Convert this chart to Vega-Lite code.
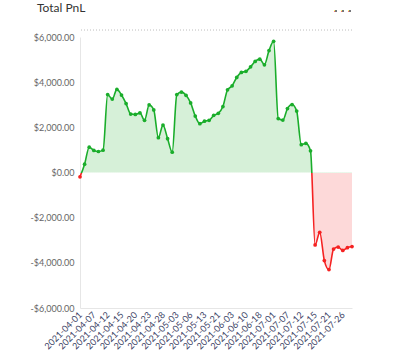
{
  "$schema": "https://vega.github.io/schema/vega-lite/v6.json",
  "autosize": "none",
  "width": 272,
  "height": 271,
  "padding": {"left": 80, "top": 37, "right": 48, "bottom": 55},
  "background": "white",
  "title": {"text": "Total PnL", "anchor": "start", "frame": "group", "dx": -43, "dy": 16, "fontSize": 12, "font": "Lato", "fontWeight": "normal", "color": "#333333"},
  "config": {"view": {"stroke": null}},
  "data": {"values": [
    {"date": "2021-04-01", "pnl": -190},
    {"date": "2021-04-05", "pnl": 370},
    {"date": "2021-04-06", "pnl": 1120},
    {"date": "2021-04-07", "pnl": 975},
    {"date": "2021-04-08", "pnl": 930},
    {"date": "2021-04-09", "pnl": 990},
    {"date": "2021-04-12", "pnl": 3450},
    {"date": "2021-04-13", "pnl": 3250},
    {"date": "2021-04-14", "pnl": 3680},
    {"date": "2021-04-15", "pnl": 3430},
    {"date": "2021-04-16", "pnl": 3050},
    {"date": "2021-04-19", "pnl": 2590},
    {"date": "2021-04-20", "pnl": 2570},
    {"date": "2021-04-21", "pnl": 2640},
    {"date": "2021-04-22", "pnl": 2310},
    {"date": "2021-04-23", "pnl": 2990},
    {"date": "2021-04-26", "pnl": 2770},
    {"date": "2021-04-27", "pnl": 1540},
    {"date": "2021-04-28", "pnl": 2100},
    {"date": "2021-04-29", "pnl": 1500},
    {"date": "2021-04-30", "pnl": 900},
    {"date": "2021-05-03", "pnl": 3450},
    {"date": "2021-05-04", "pnl": 3560},
    {"date": "2021-05-05", "pnl": 3420},
    {"date": "2021-05-06", "pnl": 3080},
    {"date": "2021-05-07", "pnl": 2500},
    {"date": "2021-05-10", "pnl": 2160},
    {"date": "2021-05-13", "pnl": 2270},
    {"date": "2021-05-17", "pnl": 2310},
    {"date": "2021-05-19", "pnl": 2530},
    {"date": "2021-05-21", "pnl": 2620},
    {"date": "2021-05-27", "pnl": 2920},
    {"date": "2021-06-01", "pnl": 3660},
    {"date": "2021-06-03", "pnl": 3840},
    {"date": "2021-06-07", "pnl": 4210},
    {"date": "2021-06-08", "pnl": 4430},
    {"date": "2021-06-10", "pnl": 4480},
    {"date": "2021-06-14", "pnl": 4680},
    {"date": "2021-06-16", "pnl": 4920},
    {"date": "2021-06-18", "pnl": 5020},
    {"date": "2021-06-23", "pnl": 4770},
    {"date": "2021-06-28", "pnl": 5400},
    {"date": "2021-07-01", "pnl": 5810},
    {"date": "2021-07-02", "pnl": 2390},
    {"date": "2021-07-06", "pnl": 2320},
    {"date": "2021-07-07", "pnl": 2830},
    {"date": "2021-07-08", "pnl": 3010},
    {"date": "2021-07-09", "pnl": 2720},
    {"date": "2021-07-12", "pnl": 1230},
    {"date": "2021-07-13", "pnl": 1290},
    {"date": "2021-07-14", "pnl": 960},
    {"date": "2021-07-15", "pnl": -3210},
    {"date": "2021-07-16", "pnl": -2650},
    {"date": "2021-07-19", "pnl": -3900},
    {"date": "2021-07-21", "pnl": -4300},
    {"date": "2021-07-22", "pnl": -3390},
    {"date": "2021-07-23", "pnl": -3300},
    {"date": "2021-07-26", "pnl": -3450},
    {"date": "2021-07-27", "pnl": -3330},
    {"date": "2021-07-28", "pnl": -3280}
  ]},
  "encoding": {
    "x": {
      "field": "date", "type": "ordinal", "sort": null,
      "scale": {"type": "point", "padding": 0},
      "axis": {
        "title": null, "ticks": false, "grid": false,
        "domainColor": "#e6e6e6",
        "values": ["2021-04-01","2021-04-07","2021-04-12","2021-04-15","2021-04-20","2021-04-23","2021-04-28","2021-05-03","2021-05-06","2021-05-13","2021-05-21","2021-06-03","2021-06-10","2021-06-18","2021-07-01","2021-07-07","2021-07-12","2021-07-15","2021-07-21","2021-07-26"],
        "labelAngle": -45, "labelAlign": "right", "labelBaseline": "middle",
        "labelPadding": 5, "labelFont": "Lato", "labelFontSize": 9, "labelColor": "#3d4466"
      }
    },
    "y": {
      "field": "pnl", "type": "quantitative",
      "scale": {"domain": [-6000, 6000], "nice": false},
      "axis": {
        "title": null, "ticks": false, "grid": false,
        "domainColor": "#e6e6e6",
        "values": [-6000, -4000, -2000, 0, 2000, 4000, 6000],
        "labelExpr": "replace(format(datum.value, '$,.2f'), '\u2212', '-')",
        "labelPadding": 6, "labelFont": "Lato", "labelFontSize": 9, "labelColor": "#666666"
      }
    }
  },
  "layer": [
    {
      "mark": {"type": "area", "interpolate": "monotone",
        "color": {"gradient": "linear", "x1": 0, "y1": 0, "x2": 0, "y2": 1,
          "stops": [{"offset": 0, "color": "#d6f0d8"}, {"offset": 0.5747, "color": "#d6f0d8"}, {"offset": 0.5747, "color": "#fdd9d9"}, {"offset": 1, "color": "#fdd9d9"}]}},
      "encoding": {"y2": {"datum": 0}}
    },
    {
      "mark": {"type": "line", "interpolate": "monotone", "strokeWidth": 1.6,
        "color": {"gradient": "linear", "x1": 0, "y1": 0, "x2": 0, "y2": 1,
          "stops": [{"offset": 0, "color": "#1aad2b"}, {"offset": 0.5747, "color": "#1aad2b"}, {"offset": 0.5747, "color": "#f52222"}, {"offset": 1, "color": "#f52222"}]}},
      "encoding": {}
    },
    {
      "mark": {"type": "circle", "size": 14, "opacity": 1},
      "encoding": {
        "color": {"condition": {"test": "datum.pnl < 0", "value": "#f52222"}, "value": "#1aad2b"}
      }
    },
    {
      "mark": {"type": "rule", "stroke": "#dddddd", "strokeDash": [1, 2], "strokeWidth": 1},
      "encoding": {"y": {"datum": 6300}, "x": null}
    },
    {
      "mark": {"type": "text", "text": ". . .", "fontSize": 11, "color": "#777777", "font": "DejaVu Sans", "baseline": "bottom"},
      "encoding": {"x": {"datum": "2021-07-26", "type": "ordinal"}, "y": {"datum": 7000}}
    }
  ]
}
